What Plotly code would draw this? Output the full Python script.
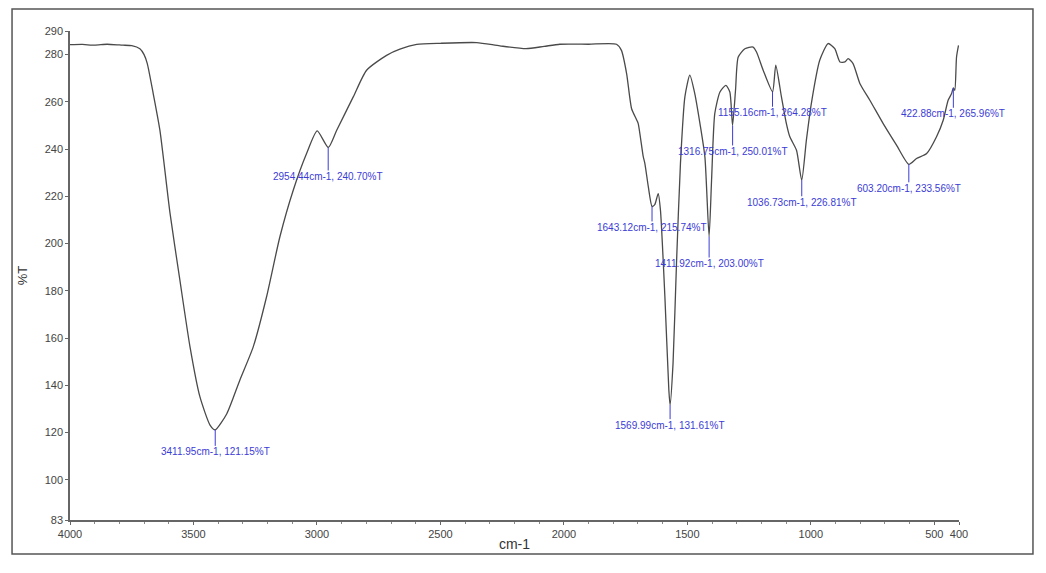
import plotly.graph_objects as go

# FTIR spectrum (wavenumber cm-1, %T)
wavenumber = [
    4000, 3950, 3900, 3850, 3800, 3785, 3750, 3717, 3700, 3687, 3663, 3636,
    3595, 3555, 3514, 3474, 3433, 3412, 3365, 3312, 3258, 3204, 3150, 3096,
    3042, 2999, 2954, 2920, 2853, 2799, 2718, 2664, 2596, 2500, 2353, 2259,
    2153, 2080, 2016, 1900, 1787, 1767, 1746, 1726, 1706, 1699, 1679, 1672,
    1658, 1643, 1632, 1618, 1609, 1591, 1575, 1570, 1558, 1544, 1528, 1510,
    1490, 1470, 1449, 1429, 1412, 1402, 1389, 1368, 1344, 1328, 1317, 1305,
    1294, 1267, 1234, 1220, 1193, 1155, 1142, 1119, 1099, 1085, 1058, 1037,
    1018, 998, 964, 930, 903, 882, 862, 849, 829, 801, 761, 707, 653, 603,
    572, 531, 491, 464, 444, 430, 423, 417, 410, 402,
]
transmittance = [
    284.2, 284.3, 284.0, 284.4, 284.1, 284.0, 283.8, 282.5, 280.0, 276.2,
    263.5, 248.0, 212.9, 184.5, 156.3, 135.2, 123.2, 121.15, 128.0, 142.3,
    156.3, 177.5, 202.9, 222.6, 238.1, 247.7, 240.70, 248.0, 262.1, 273.4,
    279.7, 282.3, 284.3, 284.8, 285.1, 283.7, 282.5, 283.5, 284.4, 284.4,
    284.4, 281.8, 272.0, 257.2, 252.5, 250.8, 237.0, 233.9, 224.0, 215.74,
    216.5, 221.2, 214.2, 177.5, 138.0, 131.61, 149.3, 191.7, 233.9, 262.1,
    271.3, 263.5, 250.8, 236.7, 203.00, 226.8, 255.0, 264.2, 267.0, 264.2,
    250.01, 264.9, 279.0, 282.5, 283.2, 281.1, 273.4, 264.28, 275.5, 262.1,
    250.8, 245.2, 239.5, 226.81, 243.8, 259.3, 277.6, 284.7, 282.5, 276.9,
    276.9, 278.3, 276.2, 267.7, 260.7, 250.8, 241.7, 233.56, 236.0, 238.1,
    245.2, 252.2, 260.7, 263.5, 265.96, 264.9, 279.0, 283.9,
]

# picked peaks and their label offsets (px below the peak)
peak_wn = [3411.95, 2954.44, 1643.12, 1569.99, 1411.92, 1316.75, 1155.16, 1036.73, 603.20, 422.88]
peak_t = [121.15, 240.70, 215.74, 131.61, 203.00, 250.01, 264.28, 226.81, 233.56, 265.96]
label_dy = [22, 29, 21, 20, 27, 26, 21, 22, 24, 26]

x_ticks = [4000, 3500, 3000, 2500, 2000, 1500, 1000, 500, 400]
y_ticks = [83, 100, 120, 140, 160, 180, 200, 220, 240, 260, 280, 290]

FONT = "Liberation Sans, Arial, sans-serif"
BLUE = "#3b3bd6"

fig = go.Figure()
fig.add_trace(go.Scatter(
    x=wavenumber, y=transmittance, mode="lines",
    line=dict(color="#4a4a4a", width=1.3, shape="spline", smoothing=0.6),
    showlegend=False,
))

for wn, t, dy in zip(peak_wn, peak_t, label_dy):
    fig.add_annotation(
        x=wn, y=t, text=f"{wn:.2f}cm-1, {t:.2f}%T",
        showarrow=True, ax=0, ay=dy, arrowhead=0, arrowwidth=1,
        arrowcolor=BLUE, standoff=0, startstandoff=0,
        font=dict(family=FONT, size=10, color=BLUE), borderpad=0,
    )

# outer frame round the whole chart
fig.add_shape(type="rect", xref="paper", yref="paper",
              x0=-0.0652, x1=1.0832, y0=-0.0695, y1=1.045,
              line=dict(color="#555555", width=1.5))

fig.update_xaxes(
    range=[4000, 400], tickvals=x_ticks, ticktext=[str(v) for v in x_ticks],
    showgrid=False, zeroline=False, showline=True, linecolor="#666666", linewidth=1.5,
    ticks="outside", ticklen=3, tickcolor="#666666", automargin=False,
    tickfont=dict(family=FONT, size=11, color="#444444"),
    minor=dict(ticks="outside", ticklen=2, tickcolor="#888888", dtick=100),
    title=dict(text="cm-1", font=dict(family=FONT, size=14, color="#333333"), standoff=0),
)
fig.update_yaxes(
    range=[83, 290], tickvals=y_ticks,
    showgrid=False, zeroline=False, showline=True, linecolor="#666666", linewidth=1.5,
    ticks="outside", ticklen=3, tickcolor="#666666", automargin=False,
    tickfont=dict(family=FONT, size=11, color="#444444"),
    title=dict(text="%T", font=dict(family=FONT, size=13, color="#333333"), standoff=14),
)
fig.update_layout(
    width=1046, height=573,
    margin=dict(l=62, r=95, t=23, b=61),
    plot_bgcolor="white", paper_bgcolor="white",
    font=dict(family=FONT),
)

fig.write_html("out.html")
